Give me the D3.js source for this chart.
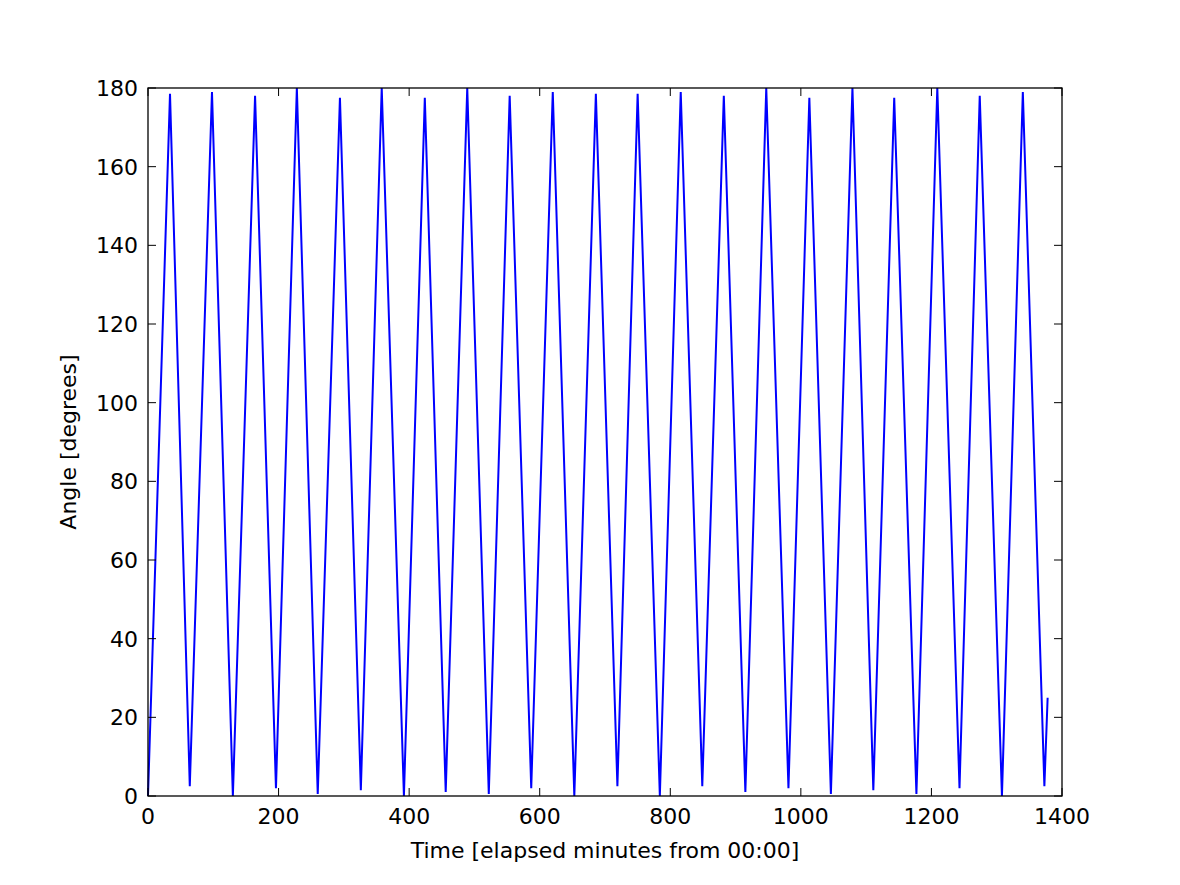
<!DOCTYPE html>
<html><head><meta charset="utf-8">
<script src="https://cdn.jsdelivr.net/npm/d3@7"></script>
<style>body{margin:0;background:#fff}text{font-family:"DejaVu Sans",sans-serif}</style>
</head><body><svg id="c" width="1180" height="885"></svg>
<script>
const troughTimes=[0,64,130,196,260,326,392,456,522,587,653,719,784,849,915,981,1046,1111,1177,1243,1308,1373];
const troughVals=[0,2.5,0,2,0.5,1.5,0,1,0.5,2,0,2.5,0,2.5,1,2,0.5,1.5,0.5,2,0,2.5];
const peakTimes=[33.7,98,164,228,294,358,424,489,554,620,686,750,816,882,947,1013,1079,1143,1209,1274,1340];
const peakVals=[178.5,179,178,180,177.5,180,177.5,180,178,179,178.5,178.5,179,178,180,177.5,180,177.5,180,178,179];
const endPoint={t:1378,v:25};
const xTicks=[0,200,400,600,800,1000,1200,1400];
const yTicks=[0,20,40,60,80,100,120,140,160,180];

const pts=[];
for(let i=0;i<troughTimes.length;i++){
  pts.push({t:troughTimes[i],v:troughVals[i]});
  if(i<peakTimes.length) pts.push({t:peakTimes[i],v:peakVals[i]});
}
pts.push(endPoint);

const L=148,R=1062,T=88,B=796;
const svg=d3.select("#c");
const x=d3.scaleLinear().domain([0,1400]).range([L,R]);
const y=d3.scaleLinear().domain([0,180]).range([B,T]);

svg.append("path").datum(pts).attr("fill","none").attr("stroke","#0000ff").attr("stroke-width",2)
  .attr("d",d3.line().x(d=>x(d.t)).y(d=>y(d.v)));

const fs="22px";
const g=svg.append("g");
xTicks.forEach(t=>{
  g.append("line").attr("x1",x(t)).attr("x2",x(t)).attr("y1",B).attr("y2",B-8).attr("stroke","#000");
  g.append("line").attr("x1",x(t)).attr("x2",x(t)).attr("y1",T).attr("y2",T+8).attr("stroke","#000");
  g.append("text").attr("x",x(t)).attr("y",B+28).attr("text-anchor","middle").style("font-size",fs).text(t);
});
yTicks.forEach(t=>{
  g.append("line").attr("x1",L).attr("x2",L+8).attr("y1",y(t)).attr("y2",y(t)).attr("stroke","#000");
  g.append("line").attr("x1",R).attr("x2",R-8).attr("y1",y(t)).attr("y2",y(t)).attr("stroke","#000");
  g.append("text").attr("x",L-10).attr("y",y(t)+8).attr("text-anchor","end").style("font-size",fs).text(t);
});
svg.append("rect").attr("x",L).attr("y",T).attr("width",R-L).attr("height",B-T).attr("fill","none").attr("stroke","#000").attr("stroke-width",1.3);
svg.append("text").attr("x",(L+R)/2).attr("y",858).attr("text-anchor","middle").style("font-size",fs).text("Time [elapsed minutes from 00:00]");
svg.append("text").attr("transform",`translate(76,${(T+B)/2}) rotate(-90)`).attr("text-anchor","middle").style("font-size",fs).text("Angle [degrees]");
</script></body></html>
